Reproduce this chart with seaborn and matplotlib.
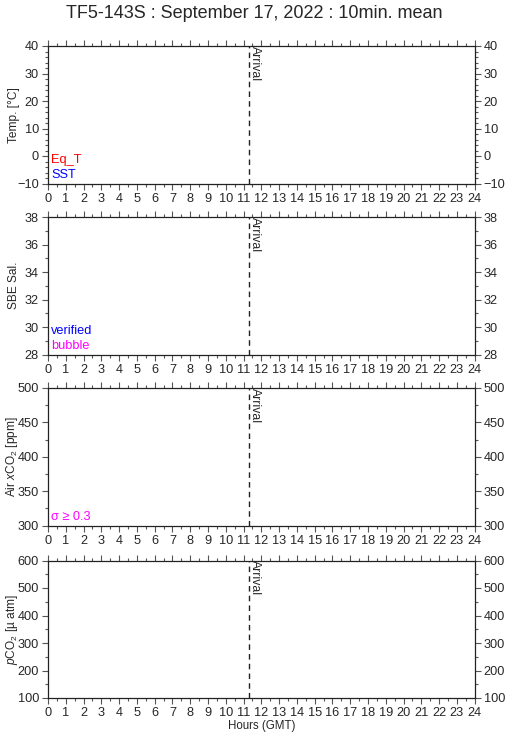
import numpy as np
import matplotlib
matplotlib.use("Agg")
import matplotlib.pyplot as plt
from matplotlib.ticker import MultipleLocator
import seaborn as sns

title = "TF5-143S : September 17, 2022 : 10min. mean"
hours = list(range(0, 25))
arrival_hour = 11.33

ylabels = ["Temp. [\u00b0C]", "SBE Sal.", "Air $x$CO$_2$ [ppm]", "$p$CO$_2$ [\u00b5 atm]"]
ylims = [(-10, 40), (28, 38), (300, 500), (100, 600)]
ymajor = [10, 2, 50, 100]
yminor = [2, 1, 25, 50]

legend_texts = [["Eq_T", "SST"], ["verified", "bubble"], ["\u03c3 \u2265 0.3"], []]
legend_colors = [["#ff0000", "#0000ff"], ["#0000ff", "#ff00ff"], ["#ff00ff"], []]

sns.set_style("ticks")
plt.rcParams['font.family'] = ['Liberation Sans', 'DejaVu Sans']
plt.rcParams['mathtext.fontset'] = 'custom'
plt.rcParams['mathtext.rm'] = 'Liberation Sans'
plt.rcParams['mathtext.it'] = 'Liberation Sans:italic'

W, H = 509, 739
fig = plt.figure(figsize=(W / 100, H / 100), dpi=100)

left_px, right_px = 48, 474.7
tops = [46, 217, 388, 560.5]
heights = 137.5
fs = 9.2

for i in range(4):
    top = tops[i]
    ax = fig.add_axes([left_px / W, 1 - (top + heights) / H,
                       (right_px - left_px) / W, heights / H])
    ax.set_xlim(0, 24)
    ax.set_ylim(*ylims[i])
    ax.set_xticks(hours)
    ax.xaxis.set_minor_locator(MultipleLocator(0.5))
    ax.yaxis.set_major_locator(MultipleLocator(ymajor[i]))
    ax.yaxis.set_minor_locator(MultipleLocator(yminor[i]))
    ax.tick_params(axis="both", which="both", direction="out", top=True, right=True,
                   labelright=True, labelsize=fs, color="#555555", width=0.8, pad=2)
    ax.tick_params(axis="both", which="major", length=4.5)
    ax.tick_params(axis="both", which="minor", length=2.5)
    for sp in ax.spines.values():
        sp.set_visible(True)
        sp.set_linewidth(0.9)
        sp.set_color("#222222")
    ax.set_ylabel(ylabels[i], fontsize=8.6)
    ax.yaxis.set_label_coords(-0.066, 0.5)

    ax.axvline(arrival_hour, color="#222222", lw=1.0, ls=(0, (4, 3)))
    ax.text(arrival_hour, 1.0, "Arrival", transform=ax.get_xaxis_transform(),
            rotation=-90, ha="left", va="bottom", fontsize=8.8,
            rotation_mode="anchor")

    n = len(legend_texts[i])
    for j, (t, c) in enumerate(zip(legend_texts[i], legend_colors[i])):
        ax.text(0.008, 0.015 + (n - 1 - j) * 0.11, t, transform=ax.transAxes,
                color=c, fontsize=fs, ha="left", va="bottom")

    if i == 3:
        ax.set_xlabel("Hours (GMT)", fontsize=8.3, labelpad=1)

fig.suptitle(title, fontsize=13, y=1 - 14 / H, va="center")
fig.savefig("out.png", dpi=100)
